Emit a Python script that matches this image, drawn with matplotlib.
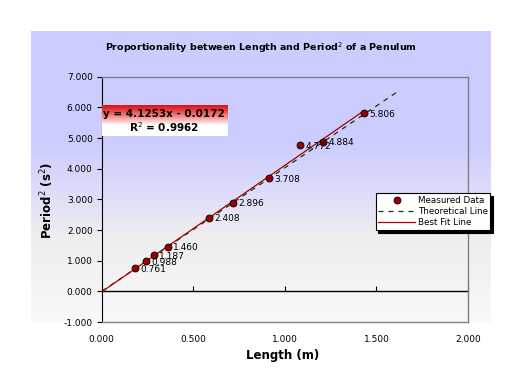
import numpy as np
import matplotlib
matplotlib.use('Agg')
import matplotlib.pyplot as plt
from matplotlib.lines import Line2D

# measured data
lengths = [0.182, 0.242, 0.284, 0.360, 0.584, 0.718, 0.913, 1.083, 1.206, 1.430]
period_sq = [0.761, 0.988, 1.187, 1.460, 2.408, 2.896, 3.708, 4.772, 4.884, 5.806]
point_labels = ['0.761', '0.988', '1.187', '1.460', '2.408', '2.896', '3.708', '4.772', '4.884', '5.806']

# theoretical line (4*pi^2/g) end points
theory_x = [0.0, 1.62]
theory_y = [0.0, 6.53]

# excel trendline
fit_slope = 4.1253
fit_intercept = -0.0172
fit_r2 = 0.9962

x_ticks = [0.0, 0.5, 1.0, 1.5, 2.0]
y_ticks = [-1, 0, 1, 2, 3, 4, 5, 6, 7]

W, H = 522, 378
fig = plt.figure(figsize=(W / 100, H / 100), dpi=100)

# gradient background panel
bg = fig.add_axes([31 / W, 1 - 322 / H, 460 / W, 291 / H], zorder=0)
rows = np.arange(31, 322)
stops = [31, 140, 195, 235, 262, 322]
cols = np.array([[204, 204, 255], [204, 204, 255], [222, 222, 250],
                 [238, 238, 238], [241, 241, 241], [249, 249, 249]]) / 255
grad = np.stack([np.interp(rows, stops, cols[:, i]) for i in range(3)], axis=1)
bg.imshow(grad[:, None, :], aspect='auto', extent=[0, 1, 0, 1])
bg.axis('off')

ax = fig.add_axes([101.7 / W, 1 - 322 / H, (468 - 101.7) / W, (322 - 76.7) / H], zorder=1)
ax.patch.set_alpha(0)

ax.plot(theory_x, theory_y, color='#004400', lw=0.9, ls=(0, (4, 4)), zorder=2)
fx = np.array([0.0, max(lengths)])
ax.plot(fx, fit_slope * fx + fit_intercept, color='#aa0000', lw=0.9, zorder=3)
ax.plot(lengths, period_sq, 'o', color='#990000', mec='black', mew=0.6, ms=5, zorder=4)
for x, y, s in zip(lengths, period_sq, point_labels):
    ax.annotate(s, (x, y), xytext=(4, -1), textcoords='offset points',
                va='center', ha='left', fontsize=6.5, zorder=5)

ax.set_xlim(0, 2)
ax.set_ylim(-1, 7)
ax.set_xticks(x_ticks)
ax.set_xticklabels(['%.3f' % v for v in x_ticks])
ax.set_yticks(y_ticks)
ax.set_yticklabels(['%.3f' % v for v in y_ticks])
ax.tick_params(axis='x', length=0, pad=9, labelsize=6.5)
ax.tick_params(axis='y', length=3.5, width=0.8, pad=3, labelsize=6.5, direction='out')
for s in ['top', 'right', 'bottom']:
    ax.spines[s].set_color('#808080')
    ax.spines[s].set_linewidth(1)
ax.spines['left'].set_color('black')

# x axis line sits on y = 0
sec = ax.secondary_xaxis(1 / 8)
sec.set_xticks(x_ticks)
sec.tick_params(direction='in', length=3.5, width=0.8, labelbottom=False)
sec.spines['bottom'].set_color('black')
sec.spines['bottom'].set_linewidth(1)

# equation box with red gradient
eq = fig.add_axes([101.7 / W, 1 - 135.7 / H, 125 / W, 30.7 / H], zorder=3)
er = np.linspace(0, 1, 60)
estops = [0, 0.15, 0.4, 0.65, 1]
ecols = np.array([[215, 20, 20], [225, 60, 60], [245, 150, 150], [255, 255, 255], [255, 255, 255]]) / 255
egrad = np.stack([np.interp(er, estops, ecols[:, i]) for i in range(3)], axis=1)
eq.imshow(egrad[:, None, :], aspect='auto', extent=[0, 1, 0, 1])
eq.axis('off')
eq.text(0.5, 0.7, 'y = %.4fx - %.4f' % (fit_slope, -fit_intercept), ha='center', va='center',
        fontsize=7.5, fontweight='bold')
eq.text(0.5, 0.29, 'R$^2$ = %.4f' % fit_r2, ha='center', va='center',
        fontsize=7.5, fontweight='bold')

fig.text(261 / W, 1 - 48 / H, 'Proportionality between Length and Period$^2$ of a Penulum',
         ha='center', va='center', fontsize=6.8, fontweight='bold')
fig.text(283 / W, 1 - 356 / H, 'Length (m)', ha='center', va='center',
         fontsize=8.5, fontweight='bold')
fig.text(47 / W, 1 - 200 / H, 'Period$^2$ (s$^2$)', ha='center', va='center',
         rotation=90, fontsize=8.5, fontweight='bold')

handles = [
    Line2D([], [], ls='none', marker='o', color='#990000', mec='black', mew=0.6, ms=5),
    Line2D([], [], color='#004400', lw=0.9, ls=(0, (4, 4))),
    Line2D([], [], color='#aa0000', lw=0.9),
]
leg = fig.legend(handles, ['Measured Data', 'Theoretical Line', 'Best Fit Line'],
                 loc='upper left', bbox_to_anchor=(375.7 / W, 1 - 193.3 / H),
                 fontsize=6.3, frameon=True, fancybox=False, handlelength=4.2,
                 borderpad=0.3, labelspacing=0.25, handletextpad=0.3, borderaxespad=0,
                 shadow={'color': 'black', 'alpha': 1, 'ox': 2, 'oy': -2})
leg.get_frame().set_edgecolor('black')
leg.get_frame().set_linewidth(0.8)
leg.get_frame().set_alpha(1)

fig.savefig('out.png', dpi=100)
